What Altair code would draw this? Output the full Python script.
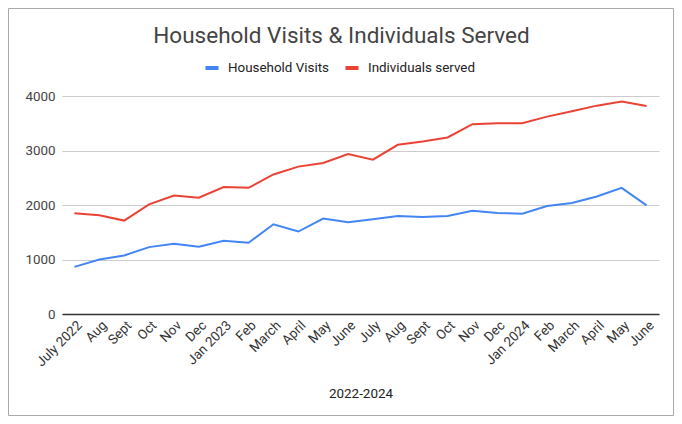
import altair as alt
import pandas as pd

months = ["July 2022", "Aug", "Sept", "Oct", "Nov", "Dec", "Jan 2023", "Feb", "March",
          "April", "May", "June", "July", "Aug ", "Sept ", "Oct ", "Nov ", "Dec ",
          "Jan 2024", "Feb ", "March ", "April ", "May ", "June "]
household = [865, 1000, 1075, 1227, 1289, 1234, 1343, 1307, 1647, 1513, 1750, 1683,
             1738, 1799, 1781, 1799, 1896, 1854, 1841, 1981, 2036, 2157, 2315, 1993]
individuals = [1847, 1811, 1714, 2011, 2175, 2133, 2328, 2315, 2560, 2704, 2771, 2935,
               2832, 3105, 3166, 3239, 3482, 3500, 3500, 3622, 3719, 3823, 3901, 3816]
series = ["Household Visits", "Individuals served"]
colors = ["#4285F4", "#EA4335"]

rows = []
for i, m in enumerate(months):
    rows.append({"month": m, "series": series[0], "value": household[i], "order": i})
    rows.append({"month": m, "series": series[1], "value": individuals[i], "order": i})
df = pd.DataFrame(rows)

FONT = "Roboto"
FS = 13.4

lines = alt.Chart(df).mark_line(strokeWidth=2).encode(
    x=alt.X("month:N", sort=months,
            scale=alt.Scale(paddingInner=0, paddingOuter=0),
            axis=alt.Axis(title="2022-2024", labelAngle=-45, labelFontSize=FS,
                          labelColor="#333", labelFont=FONT, ticks=False,
                          domainColor="#333", domainWidth=1.5, labelPadding=4,
                          titleFont=FONT, titleFontSize=FS, titleFontWeight="normal",
                          titleColor="#222", titlePadding=18,
                          labelExpr="trim(datum.label)")),
    y=alt.Y("value:Q", scale=alt.Scale(domain=[0, 4000], nice=False),
            axis=alt.Axis(title=None, values=[0, 1000, 2000, 3000, 4000], format="d",
                          labelFontSize=FS, labelColor="#444", labelFont=FONT,
                          ticks=False, domain=False, gridColor="#cccccc",
                          labelPadding=7)),
    color=alt.Color("series:N", scale=alt.Scale(domain=series, range=colors),
                    legend=alt.Legend(title=None, orient="none", direction="horizontal",
                                      legendX=141, legendY=-37, symbolType="stroke",
                                      symbolStrokeWidth=4, symbolSize=170,
                                      labelFontSize=FS, labelColor="#222",
                                      labelFont=FONT, labelOffset=7,
                                      columnPadding=8)),
    detail="series:N",
)

border = alt.Chart(pd.DataFrame({"b": [0]})).mark_rect(
    fill=None, stroke="#aaaaaa", strokeWidth=1
).encode(x=alt.value(-53.5), x2=alt.value(611.5), y=alt.value(-87.5), y2=alt.value(319.5))

chart = alt.layer(lines, border).properties(
    width=597, height=218,
    padding={"left": 54, "top": 88, "right": 15, "bottom": 102},
    autosize=alt.AutoSizeParams(type="none"),
    title=alt.TitleParams("Household Visits & Individuals Served", font=FONT,
                          fontSize=22.5, fontWeight="normal", color="#444",
                          anchor="middle", dx=-19, offset=-57, baseline="alphabetic"),
).configure_view(stroke=None)

chart.save("out.html", embed_options={"renderer": "svg", "actions": False})
